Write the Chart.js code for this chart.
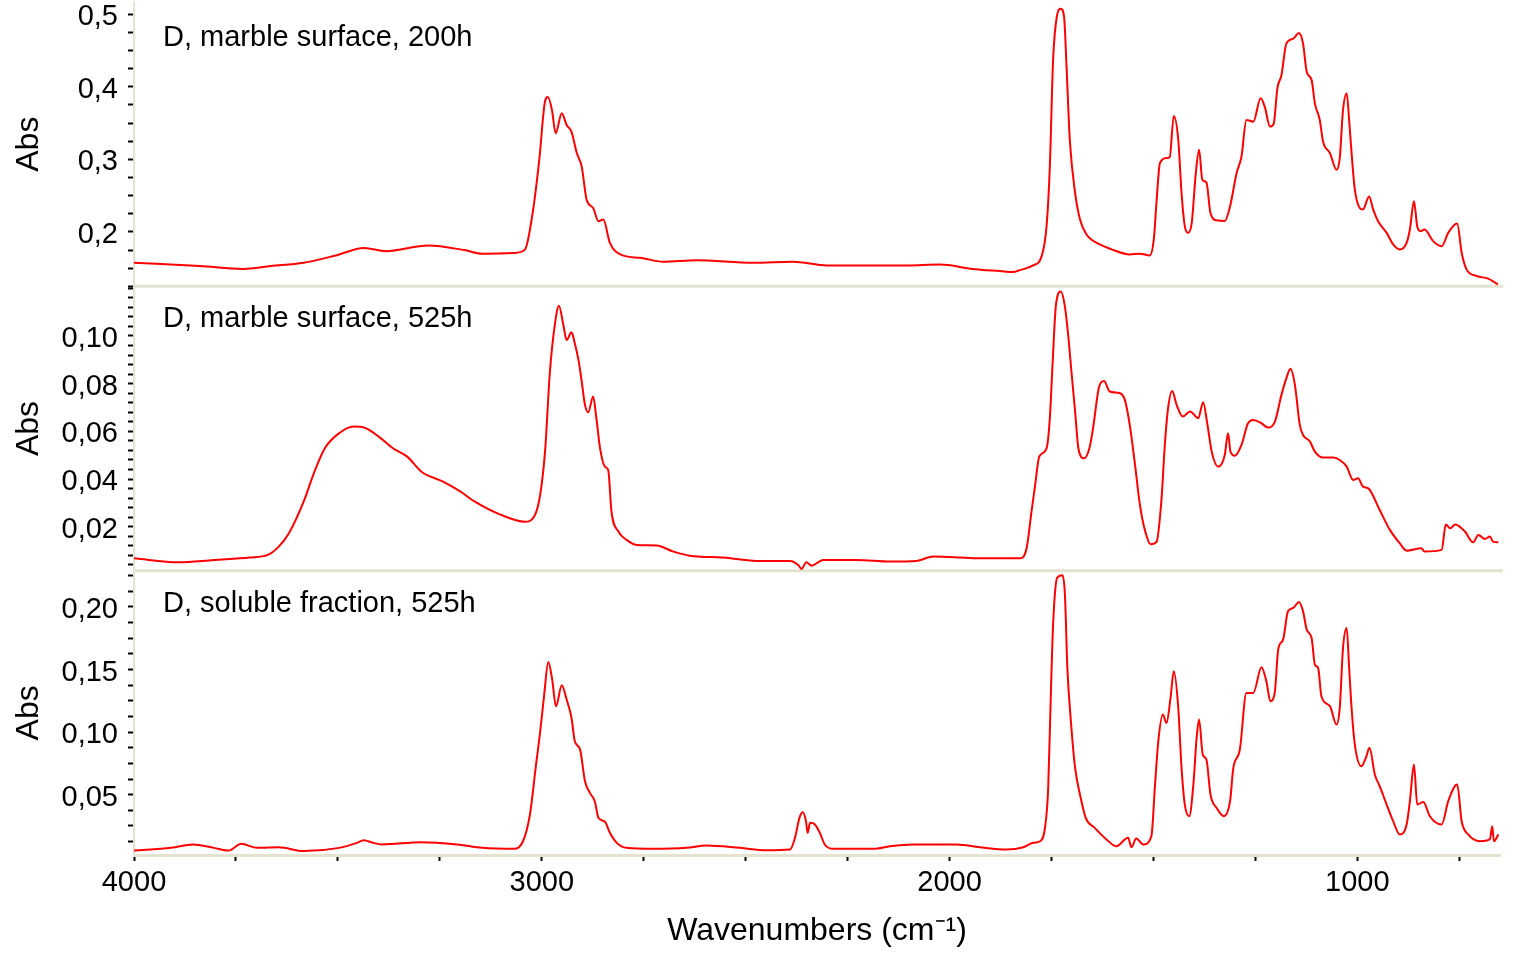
<!DOCTYPE html>
<html>
<head>
<meta charset="utf-8">
<title>FTIR spectra, D</title>
<script src="https://cdn.jsdelivr.net/npm/chart.js@4.4.1/dist/chart.umd.min.js"></script>
<style>
  body { margin: 0; background: #fff; }
  canvas { display: block; }
</style>
</head>
<body>
<canvas id="spectra" width="1522" height="955"></canvas>
<script>
// D, marble surface, 200h
const wn200h = [4000, 3838, 3733, 3664, 3584, 3505, 3436, 3382, 3278, 3190, 3146, 3068, 3041, 3024, 3006, 2993, 2985, 2975, 2966, 2951,
  2939, 2927, 2914, 2902, 2890, 2874, 2861, 2849, 2833, 2801, 2759, 2703, 2620, 2482, 2384, 2301, 2105, 2024, 1943, 1876,
  1845, 1827, 1795, 1774, 1762, 1754, 1746, 1737, 1727, 1719, 1713, 1705, 1692, 1680, 1664, 1631, 1598, 1558, 1533, 1509,
  1499, 1492, 1484, 1468, 1460, 1450, 1439, 1431, 1423, 1415, 1406, 1396, 1388, 1380, 1370, 1360, 1345, 1325, 1312, 1296,
  1284, 1272, 1255, 1237, 1227, 1214, 1205, 1196, 1186, 1174, 1157, 1143, 1133, 1124, 1112, 1104, 1092, 1084, 1067, 1051,
  1043, 1035, 1026, 1020, 1014, 1006, 994, 986, 971, 961, 949, 928, 912, 896, 879, 871, 861, 853, 845, 835,
  814, 793, 777, 755, 744, 732, 707, 679, 655];
const abs200h = [0.1575, 0.153, 0.149, 0.153, 0.1575, 0.1676, 0.178, 0.1735, 0.1813, 0.175, 0.170, 0.171, 0.176, 0.22, 0.30, 0.377, 0.386, 0.368, 0.336, 0.3636,
  0.3475, 0.338, 0.3087, 0.29, 0.2445, 0.233, 0.2147, 0.217, 0.185, 0.1676, 0.1644, 0.159, 0.161, 0.1575, 0.159, 0.1538, 0.1538, 0.155, 0.149, 0.146,
  0.1447, 0.1474, 0.1538, 0.1667, 0.208, 0.290, 0.437, 0.4963, 0.5078, 0.4963, 0.4276, 0.327, 0.2537, 0.217, 0.1964, 0.1827, 0.175, 0.169, 0.170, 0.1676,
  0.1896, 0.2445, 0.295, 0.3018, 0.303, 0.360, 0.327, 0.2537, 0.208, 0.1987, 0.2125, 0.281, 0.3132, 0.272, 0.2683, 0.226, 0.216, 0.2152, 0.2353, 0.281,
  0.304, 0.3544, 0.352, 0.3842, 0.3727, 0.3452, 0.349, 0.398, 0.416, 0.4597, 0.4666, 0.4743, 0.4597, 0.4208, 0.4093, 0.3773, 0.3544, 0.3246, 0.3087, 0.2857,
  0.3018, 0.3681, 0.391, 0.3544, 0.3087, 0.2582, 0.233, 0.231, 0.249, 0.231, 0.2147, 0.1987, 0.1827, 0.1758, 0.185, 0.2033, 0.2422, 0.2078, 0.201, 0.2033,
  0.1873, 0.1804, 0.1987, 0.2115, 0.1713, 0.1484, 0.1392, 0.1356, 0.1278];

// D, marble surface, 525h
const wn525h = [4000, 3891, 3804, 3716, 3672, 3645, 3620, 3584, 3559, 3532, 3497, 3461, 3436, 3400, 3365, 3330, 3295, 3242, 3199, 3164,
  3103, 3041, 3019, 3004, 2992, 2980, 2968, 2958, 2947, 2939, 2927, 2919, 2910, 2902, 2894, 2886, 2874, 2866, 2857, 2845,
  2837, 2829, 2812, 2792, 2767, 2718, 2677, 2637, 2555, 2473, 2391, 2371, 2363, 2351, 2338, 2310, 2228, 2146, 2081, 2040,
  1974, 1942, 1860, 1827, 1811, 1799, 1790, 1780, 1762, 1754, 1747, 1739, 1727, 1717, 1709, 1701, 1692, 1684, 1670, 1657,
  1648, 1633, 1621, 1607, 1582, 1570, 1558, 1545, 1533, 1521, 1507, 1492, 1480, 1472, 1464, 1454, 1443, 1428, 1410, 1390,
  1378, 1368, 1357, 1341, 1325, 1317, 1311, 1300, 1284, 1268, 1255, 1235, 1219, 1202, 1186, 1174, 1164, 1153, 1141, 1133,
  1116, 1104, 1084, 1059, 1043, 1026, 1010, 998, 986, 973, 945, 920, 896, 879, 843, 835, 793, 783, 772, 760,
  736, 716, 703, 687, 675, 667, 654];
const abs525h = [0.0068, 0.0051, 0.0061, 0.0071, 0.0082, 0.0117, 0.0173, 0.0305, 0.0424, 0.0529, 0.0592, 0.062, 0.0616, 0.0578, 0.0529, 0.0494, 0.0431, 0.0389, 0.0347, 0.0305,
  0.0252, 0.0221, 0.0242, 0.0333, 0.0515, 0.085, 0.1046, 0.1127, 0.1046, 0.0983, 0.1015, 0.0969, 0.090, 0.0809, 0.0711, 0.068, 0.0746, 0.0655, 0.0529, 0.0452,
  0.0438, 0.0263, 0.018, 0.0145, 0.0124, 0.0121, 0.0096, 0.0079, 0.0071, 0.0057, 0.0057, 0.004, 0.0023, 0.0051, 0.0037, 0.0061, 0.0061, 0.0054, 0.0057, 0.0075,
  0.0071, 0.0068, 0.0068, 0.0068, 0.011, 0.0263, 0.0375, 0.0494, 0.0529, 0.0655, 0.0892, 0.113, 0.1186, 0.1123, 0.1004, 0.085, 0.0683, 0.0529, 0.0487, 0.0529,
  0.0613, 0.0788, 0.0811, 0.0767, 0.076, 0.0732, 0.0627, 0.0459, 0.0291, 0.0187, 0.0127, 0.0138, 0.0319, 0.0543, 0.0697, 0.0769, 0.0711, 0.0662, 0.0683, 0.0655,
  0.0722, 0.0634, 0.0515, 0.0452, 0.0501, 0.0592, 0.0515, 0.0498, 0.0543, 0.0634, 0.0648, 0.0634, 0.0616, 0.0641, 0.0753, 0.0822, 0.0862, 0.0795, 0.0627, 0.0585,
  0.0557, 0.0515, 0.049, 0.049, 0.048, 0.0452, 0.0396, 0.0403, 0.0368, 0.0361, 0.027, 0.0187, 0.0131, 0.01, 0.011, 0.0096, 0.0103, 0.021, 0.0194, 0.021,
  0.018, 0.0135, 0.0166, 0.0149, 0.0159, 0.0138, 0.0135];

// D, soluble fraction, 525h
const wnSoluble = [4000, 3909, 3855, 3804, 3768, 3737, 3698, 3645, 3584, 3497, 3453, 3436, 3413, 3392, 3295, 3208, 3146, 3068, 3046, 3029,
  3015, 3004, 2994, 2984, 2975, 2965, 2951, 2939, 2927, 2919, 2906, 2894, 2882, 2870, 2861, 2845, 2833, 2816, 2792, 2727,
  2645, 2596, 2514, 2449, 2391, 2379, 2368, 2360, 2352, 2348, 2342, 2330, 2318, 2306, 2285, 2187, 2146, 2089, 1983, 1926,
  1860, 1819, 1795, 1778, 1766, 1758, 1752, 1746, 1736, 1723, 1717, 1711, 1703, 1692, 1680, 1666, 1644, 1615, 1591, 1562,
  1554, 1542, 1525, 1505, 1496, 1488, 1477, 1468, 1458, 1450, 1439, 1431, 1423, 1412, 1402, 1394, 1388, 1379, 1370, 1360,
  1345, 1327, 1312, 1304, 1288, 1272, 1255, 1235, 1223, 1213, 1202, 1194, 1182, 1170, 1157, 1143, 1133, 1124, 1112, 1104,
  1096, 1088, 1067, 1051, 1043, 1035, 1026, 1020, 1014, 1006, 990, 979, 970, 957, 945, 928, 912, 896, 879, 871,
  861, 853, 838, 822, 793, 777, 755, 744, 728, 699, 675, 669, 665, 654];
const absSoluble = [0.0054, 0.0075, 0.0102, 0.0075, 0.0054, 0.0107, 0.0075, 0.008, 0.0049, 0.0075, 0.0115, 0.0136, 0.0115, 0.0102, 0.012, 0.0102, 0.0075, 0.0067, 0.0128, 0.0341,
  0.0714, 0.100, 0.13, 0.156, 0.1433, 0.1207, 0.1374, 0.126, 0.1113, 0.0927, 0.086, 0.0608, 0.0514, 0.0448, 0.0315, 0.0283, 0.0195, 0.0115, 0.0075, 0.0067,
  0.0075, 0.0094, 0.0075, 0.0056, 0.0062, 0.0155, 0.0315, 0.036, 0.0289, 0.0195, 0.0275, 0.0262, 0.0195, 0.0102, 0.0067, 0.0067, 0.0088, 0.0102, 0.0102, 0.008,
  0.0062, 0.008, 0.0115, 0.0128, 0.0235, 0.0554, 0.1247, 0.1859, 0.2232, 0.2253, 0.2099, 0.1513, 0.1113, 0.0714, 0.05, 0.0315, 0.0235, 0.0142, 0.0088, 0.0155,
  0.008, 0.015, 0.0102, 0.0168, 0.058, 0.0927, 0.114, 0.1073, 0.1273, 0.1486, 0.1193, 0.0714, 0.0421, 0.0328, 0.0581, 0.0954, 0.11, 0.082, 0.0781, 0.05,
  0.0394, 0.0328, 0.0448, 0.0714, 0.086, 0.1313, 0.1313, 0.1518, 0.1406, 0.1247, 0.1326, 0.1659, 0.1739, 0.1965, 0.1992, 0.204, 0.1965, 0.1819, 0.1752, 0.1539,
  0.1513, 0.1287, 0.1207, 0.106, 0.1193, 0.1673, 0.1832, 0.1513, 0.1193, 0.09, 0.0727, 0.0794, 0.0874, 0.0661, 0.0568, 0.0421, 0.0288, 0.0182, 0.0262, 0.0448,
  0.0741, 0.0421, 0.0442, 0.0328, 0.0262, 0.0448, 0.0581, 0.0288, 0.0182, 0.0128, 0.0142, 0.0248, 0.0128, 0.0182];

const panelTitles = ['D, marble surface, 200h', 'D, marble surface, 525h', 'D, soluble fraction, 525h'];
const xTickLabels = [4000, 3000, 2000, 1000];

const axisBeige = '#E6E2D0';
Chart.defaults.font.family = "'Liberation Sans', Arial, sans-serif";
Chart.defaults.color = '#000';

function toPoints(wn, abs) {
  return wn.map((w, i) => ({x: w, y: abs[i]}));
}

function comma(v, digits) {
  return v.toFixed(digits).replace('.', ',');
}

// one y axis per panel, stacked on the left
function panelAxis(min, max, step, major, digits, lastLabel) {
  return {
    type: 'linear',
    position: 'left',
    stack: 'panels',
    stackWeight: 1,
    min: min,
    max: max,
    border: {color: axisBeige, width: 2},
    grid: {drawOnChartArea: false, tickColor: '#000', tickLength: 6, tickWidth: 2},
    ticks: {
      stepSize: step,
      autoSkip: false,
      includeBounds: false,
      padding: 10,
      labelOffset: 3,
      font: {size: 29},
      callback: (v) => {
        const k = v / major;
        return Math.abs(k - Math.round(k)) < 1e-6 && v <= lastLabel + 1e-9 ? comma(v, digits) : '';
      }
    },
    title: {display: true, text: 'Abs', font: {size: 32}, padding: {top: 10, bottom: 0}},
    afterFit: (s) => {
      s.width = 134;
      s.paddingTop = 0;
      s.paddingBottom = 0;
    }
  };
}

const panelDecor = {
  id: 'panelDecor',
  beforeDatasetsDraw(chart) {
    const {ctx, chartArea} = chart;
    ctx.save();
    ctx.strokeStyle = axisBeige;
    ctx.lineWidth = 3;
    ['yTop', 'yMiddle'].forEach((id) => {
      const y = chart.scales[id].bottom;
      ctx.beginPath();
      ctx.moveTo(chartArea.left, y);
      ctx.lineTo(chartArea.right + 3, y);
      ctx.stroke();
    });
    ctx.restore();
  },
  afterDraw(chart) {
    const {ctx, chartArea} = chart;
    ctx.save();
    ctx.fillStyle = '#000';
    ctx.font = "29px 'Liberation Sans', Arial, sans-serif";
    ctx.textBaseline = 'middle';
    ['yTop', 'yMiddle', 'yBottom'].forEach((id, i) => {
      ctx.fillText(panelTitles[i], chartArea.left + 29, chart.scales[id].top + (i === 0 ? 36 : 33));
    });
    ctx.restore();
  }
};

const lineStyle = {borderColor: '#FF0000', borderWidth: 2, pointRadius: 0, cubicInterpolationMode: 'monotone', fill: false};

new Chart(document.getElementById('spectra'), {
  type: 'line',
  data: {
    datasets: [
      {label: panelTitles[0], data: toPoints(wn200h, abs200h), yAxisID: 'yTop', ...lineStyle},
      {label: panelTitles[1], data: toPoints(wn525h, abs525h), yAxisID: 'yMiddle', ...lineStyle},
      {label: panelTitles[2], data: toPoints(wnSoluble, absSoluble), yAxisID: 'yBottom', ...lineStyle}
    ]
  },
  options: {
    responsive: false,
    animation: false,
    layout: {padding: {left: 0, right: 22, top: 2, bottom: 0}},
    plugins: {legend: {display: false}, tooltip: {enabled: false}},
    scales: {
      x: {
        type: 'linear',
        reverse: true,
        min: 650,
        max: 4000,
        border: {color: axisBeige, width: 3},
        grid: {drawOnChartArea: false, tickColor: '#000', tickLength: 6, tickWidth: 2},
        ticks: {
          stepSize: 250,
          autoSkip: false,
          includeBounds: false,
          maxRotation: 0,
          padding: 5,
          font: {size: 29},
          callback: (v) => xTickLabels.includes(v) ? String(v) : ''
        },
        title: {display: true, text: 'Wavenumbers (cm\u207B\u00B9)', font: {size: 32}, padding: {top: 0, bottom: 5}},
        afterFit: (s) => {
          s.height = 100;
          s.paddingLeft = 0;
          s.paddingRight = 0;
        }
      },
      yBottom: panelAxis(0.0018, 0.229, 0.0125, 0.05, 2, 0.20),
      yMiddle: panelAxis(0.0016, 0.1208, 0.004, 0.02, 2, 0.10),
      yTop: panelAxis(0.125, 0.517, 0.025, 0.1, 1, 0.5)
    }
  },
  plugins: [panelDecor]
});
</script>
</body>
</html>
